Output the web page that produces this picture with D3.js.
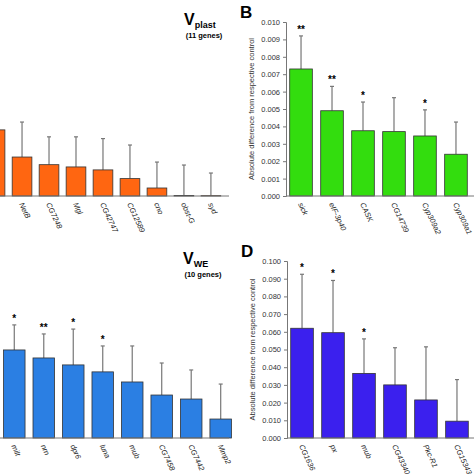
<!DOCTYPE html>
<html><head><meta charset="utf-8">
<script src="https://cdn.jsdelivr.net/npm/d3@7"></script>
<style>body{margin:0;background:#fff}</style></head>
<body><div id="chart"></div>
<script>
// Panel data (A and C are cropped on the left in the reference)
const genesA = ["h1","h2","p3","NetB","CG7248","Mgl","CG42747","CG12589","cno","obst-G","syd"];
const valsA  = [0.0060,0.0046,0.0038,0.00224,0.0018,0.00167,0.0015,0.0010,0.00046,0.00003,0.00002];
const errA   = [0.0080,0.0062,0.0038,0.00425,0.0034,0.0034,0.0033,0.00293,0.00195,0.00178,0.00132];
const starsA = ["","","","","","","","","","",""];

const genesB = ["sick","eIF-3p40","CASK","CG14739","Cyp309a2","Cyp309a1"];
const valsB  = [0.0073,0.0049,0.00375,0.0037,0.00345,0.0024];
const errB   = [0.0092,0.0063,0.0054,0.00565,0.00495,0.00425];
const starsB = ["**","**","*","","*",""];

const genesC = ["h1","h2","milt","nrn","dpr6","luna","mub","CG7458","CG7442","Mmp2"];
const valsC  = [0.070,0.060,0.0506,0.046,0.042,0.038,0.0322,0.0247,0.0224,0.0109];
const errC   = [0.085,0.075,0.065,0.0598,0.0626,0.0529,0.0529,0.0431,0.0391,0.031];
const starsC = ["","","*","**","*","*","","","",""];

const genesD = ["CG1636","px","mub","CG43340","Pkc-R1","CG15343"];
const valsD  = [0.062,0.0595,0.0365,0.030,0.0215,0.0095];
const errD   = [0.0925,0.089,0.056,0.051,0.0515,0.033];
const starsD = ["*","*","*","","",""];

const ticksB = d3.range(0, 0.0101, 0.001);
const ticksD = d3.range(0, 0.101, 0.01);

const svg = d3.select("#chart").append("svg").attr("width",474).attr("height",474)
  .style("font-family","'Liberation Sans', Arial, sans-serif");

function panel(o){
  const g = svg.append("g");
  const x = d3.scaleBand().domain(o.genes).range([o.x0, o.x1]).paddingInner(0.27).paddingOuter(0.12);
  const y = d3.scaleLinear().domain([0,o.max]).range([o.base, o.top]);
  if (o.axis){
    const ax = g.append("g").attr("transform",`translate(${o.x0},0)`)
      .call(d3.axisLeft(y).tickValues(o.ticks).tickSize(3).tickFormat(d3.format(".3f")));
    ax.select(".domain").attr("stroke","#777");
    ax.selectAll(".tick line").attr("stroke","#777");
    ax.selectAll("text").attr("font-size",7.5).attr("fill","#333");
    g.append("text").attr("transform",`translate(${o.x0-32},${(o.base+o.top)/2}) rotate(-90)`)
      .attr("text-anchor","middle").attr("font-size",7.5).attr("fill","#333")
      .text("Absolute difference from respective control");
    g.append("text").attr("x",o.x0-46).attr("y",o.top-4).attr("font-size",17)
      .attr("font-weight","bold").text(o.letter);
  }
  g.selectAll(".err").data(o.genes).join("line")
    .attr("x1",d=>x(d)+x.bandwidth()/2).attr("x2",d=>x(d)+x.bandwidth()/2)
    .attr("y1",(d,i)=>y(o.vals[i])).attr("y2",(d,i)=>y(o.err[i]))
    .attr("stroke","#777").attr("stroke-width",1.2);
  g.selectAll(".cap").data(o.genes).join("line")
    .attr("x1",d=>x(d)+x.bandwidth()/2-2).attr("x2",d=>x(d)+x.bandwidth()/2+2)
    .attr("y1",(d,i)=>y(o.err[i])).attr("y2",(d,i)=>y(o.err[i]))
    .attr("stroke","#777").attr("stroke-width",1.2);
  g.selectAll("rect").data(o.genes).join("rect")
    .attr("x",d=>x(d)).attr("width",x.bandwidth())
    .attr("y",(d,i)=>y(o.vals[i])).attr("height",(d,i)=>o.base-y(o.vals[i]))
    .attr("fill",o.color).attr("stroke","#333").attr("stroke-width",0.8);
  g.append("line").attr("x1",o.x0).attr("x2",o.xEnd).attr("y1",o.base).attr("y2",o.base)
    .attr("stroke","#777");
  g.selectAll(".star").data(o.genes).join("text")
    .attr("x",d=>x(d)+x.bandwidth()/2).attr("y",(d,i)=>y(o.err[i])-3)
    .attr("text-anchor","middle").attr("font-size",10).attr("font-weight","bold")
    .text((d,i)=>o.stars[i]);
  g.selectAll(".lab").data(o.genes).join("text")
    .attr("transform",d=>`translate(${x(d)+x.bandwidth()/2-3},${o.base+8}) rotate(65)`)
    .attr("font-size",7.5).attr("font-style","italic").attr("fill","#222")
    .text(d=>d.startsWith("h")||d.startsWith("p3")?"":d);
  if (o.title){
    const t = g.append("text").attr("x",o.title[0]).attr("y",o.title[1])
      .attr("font-size",16).attr("font-weight","bold");
    t.append("tspan").text("V");
    t.append("tspan").attr("font-size",9).attr("dy",3).text(o.sub);
    g.append("text").attr("x",o.title[0]+20).attr("y",o.title[1]+13).attr("text-anchor","middle")
      .attr("font-size",7.5).attr("font-weight","bold").text(o.note);
  }
}

panel({genes:genesA,vals:valsA,err:errA,stars:starsA,color:"#ff6611",x0:-72,x1:224,xEnd:229,
  base:196,top:22,max:0.010,title:[184,25],sub:"plast",note:"(11 genes)"});
panel({genes:genesB,vals:valsB,err:errB,stars:starsB,color:"#33dd0e",x0:286,x1:471,xEnd:474,
  base:196,top:22,max:0.010,ticks:ticksB,axis:true,letter:"B"});
panel({genes:genesC,vals:valsC,err:errC,stars:starsC,color:"#2b7fe3",x0:-59,x1:235,xEnd:229,
  base:438,top:264,max:0.1,title:[183,264],sub:"WE",note:"(10 genes)"});
panel({genes:genesD,vals:valsD,err:errD,stars:starsD,color:"#3b20ee",x0:287,x1:472,xEnd:474,
  base:438,top:261,max:0.1,ticks:ticksD,axis:true,letter:"D"});
</script></body></html>
